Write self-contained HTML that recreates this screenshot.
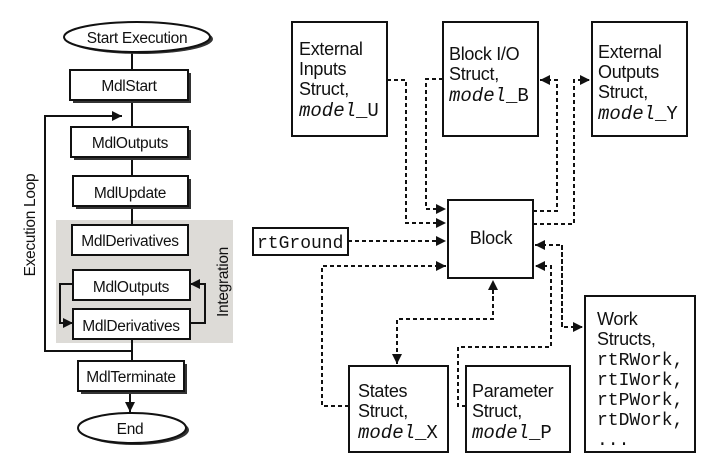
<!DOCTYPE html>
<html><head><meta charset="utf-8"><style>
html,body{margin:0;padding:0;background:#fff;}
svg{display:block;}
text{font-family:"Liberation Sans",Arial,sans-serif;fill:#111;}
.m{font-family:"Liberation Mono",monospace;}
</style></head><body>
<svg width="726" height="471" viewBox="0 0 726 471" xmlns="http://www.w3.org/2000/svg">
<defs>
<marker id="a" viewBox="0 0 10 10" refX="10" refY="5" markerWidth="10" markerHeight="10" markerUnits="userSpaceOnUse" orient="auto"><path d="M0,0 L10,5 L0,10 z" fill="#111"/></marker>
</defs>
<rect x="56" y="220" width="177" height="123" fill="#dddbd7"/>
<g stroke="#111" stroke-width="2" fill="none">
<line x1="132" y1="52" x2="132" y2="70"/>
<line x1="132" y1="100" x2="132" y2="127"/>
<line x1="132" y1="157" x2="132" y2="176"/>
<line x1="132" y1="206" x2="132" y2="225"/>
<polyline points="132,340 132,351 45,351 45,116 122,116" marker-end="url(#a)"/>
<line x1="132" y1="351" x2="132" y2="361"/>
<line x1="130" y1="391" x2="130" y2="412" marker-end="url(#a)"/>
<polyline points="73,284 60,284 60,323 73,323" marker-end="url(#a)"/>
<polyline points="190,323 205,323 205,284 190,284" marker-end="url(#a)"/>
</g>
<g>
<rect x="73" y="73" width="118" height="30" fill="#333"/>
<rect x="70" y="70" width="118" height="30" fill="#fff" stroke="#111" stroke-width="2"/>
<rect x="74" y="130" width="117" height="30" fill="#333"/>
<rect x="71" y="127" width="117" height="30" fill="#fff" stroke="#111" stroke-width="2"/>
<rect x="76" y="179" width="115" height="30" fill="#333"/>
<rect x="73" y="176" width="115" height="30" fill="#fff" stroke="#111" stroke-width="2"/>
<rect x="72" y="225" width="116" height="30" fill="#fff" stroke="#111" stroke-width="2"/>
<rect x="73" y="270" width="117" height="30" fill="#fff" stroke="#111" stroke-width="2"/>
<rect x="73" y="309" width="117" height="30" fill="#fff" stroke="#111" stroke-width="2"/>
<rect x="81" y="364" width="106" height="30" fill="#333"/>
<rect x="78" y="361" width="106" height="30" fill="#fff" stroke="#111" stroke-width="2"/>
<ellipse cx="140" cy="39" rx="73" ry="15" fill="#333"/>
<ellipse cx="137" cy="37" rx="73" ry="15" fill="#fff" stroke="#111" stroke-width="2"/>
<ellipse cx="135" cy="430" rx="54" ry="15" fill="#333"/>
<ellipse cx="132" cy="428" rx="54" ry="15" fill="#fff" stroke="#111" stroke-width="2"/>
</g>
<g font-size="15.5" text-anchor="middle" letter-spacing="-0.3">
<text x="137" y="43">Start Execution</text>
<text x="129" y="91">MdlStart</text>
<text x="130" y="148">MdlOutputs</text>
<text x="130" y="198">MdlUpdate</text>
<text x="130" y="246">MdlDerivatives</text>
<text x="131" y="292">MdlOutputs</text>
<text x="131" y="331">MdlDerivatives</text>
<text x="131" y="382">MdlTerminate</text>
<text x="130" y="434">End</text>
<text transform="translate(35,225) rotate(-90)">Execution Loop</text>
<text transform="translate(228,282) rotate(-90)">Integration</text>
</g>
<g fill="#fff" stroke="#111" stroke-width="2">
<rect x="292" y="22" width="95" height="114"/>
<rect x="443" y="22" width="95" height="114"/>
<rect x="592" y="22" width="95" height="114"/>
<rect x="448" y="200" width="85" height="78"/>
<rect x="253" y="228" width="95" height="27"/>
<rect x="349" y="366" width="99" height="86"/>
<rect x="466" y="366" width="104" height="86"/>
<rect x="585" y="296" width="110" height="156"/>
</g>
<g stroke="#111" stroke-width="2" fill="none" stroke-dasharray="4,3">
<polyline points="387,80 406,80 406,223 446,223" marker-end="url(#a)"/>
<polyline points="443,79 426,79 426,209 446,209" marker-end="url(#a)"/>
<polyline points="533,211 557,211 557,80 540,80" marker-end="url(#a)"/>
<polyline points="533,224 574,224 574,80 590,80" marker-end="url(#a)"/>
<polyline points="348,241 446,241" marker-end="url(#a)"/>
<polyline points="562,327 562,245 535,245" marker-end="url(#a)"/>
<polyline points="562,245 562,327 583,327" marker-end="url(#a)"/>
<polyline points="466,406 458,406 458,347 551,347 551,266 535,266" marker-end="url(#a)"/>
<polyline points="349,406 322,406 322,266 446,266" marker-end="url(#a)"/>
<polyline points="493,300 493,280" marker-end="url(#a)"/>
<polyline points="493,290 493,319 397,319 397,364" marker-end="url(#a)"/>
</g>
<g font-size="18" letter-spacing="-0.3">
<text x="299" y="55">External</text>
<text x="299" y="75">Inputs</text>
<text x="299" y="95">Struct,</text>
<text x="299" y="116" font-size="19" letter-spacing="0"><tspan class="m" font-style="italic">model</tspan><tspan class="m">_U</tspan></text>
<text x="449" y="60">Block I/O</text>
<text x="449" y="80">Struct,</text>
<text x="449" y="101" font-size="19" letter-spacing="0"><tspan class="m" font-style="italic">model</tspan><tspan class="m">_B</tspan></text>
<text x="598" y="58">External</text>
<text x="598" y="78">Outputs</text>
<text x="598" y="98">Struct,</text>
<text x="598" y="119" font-size="19" letter-spacing="0"><tspan class="m" font-style="italic">model</tspan><tspan class="m">_Y</tspan></text>
<text x="491" y="244" text-anchor="middle">Block</text>
<text x="257" y="248" class="m" letter-spacing="0">rtGround</text>
<text x="358" y="397">States</text>
<text x="358" y="417">Struct,</text>
<text x="358" y="438" font-size="19" letter-spacing="0"><tspan class="m" font-style="italic">model</tspan><tspan class="m">_X</tspan></text>
<text x="472" y="397">Parameter</text>
<text x="472" y="417">Struct,</text>
<text x="472" y="438" font-size="19" letter-spacing="0"><tspan class="m" font-style="italic">model</tspan><tspan class="m">_P</tspan></text>
<text x="597" y="325">Work</text>
<text x="597" y="345">Structs,</text>
<g letter-spacing="0">
<text x="597" y="365" class="m">rtRWork,</text>
<text x="597" y="385" class="m">rtIWork,</text>
<text x="597" y="405" class="m">rtPWork,</text>
<text x="597" y="425" class="m">rtDWork,</text>
<text x="597" y="445" class="m">...</text>
</g>
</g>
</svg>
</body></html>
